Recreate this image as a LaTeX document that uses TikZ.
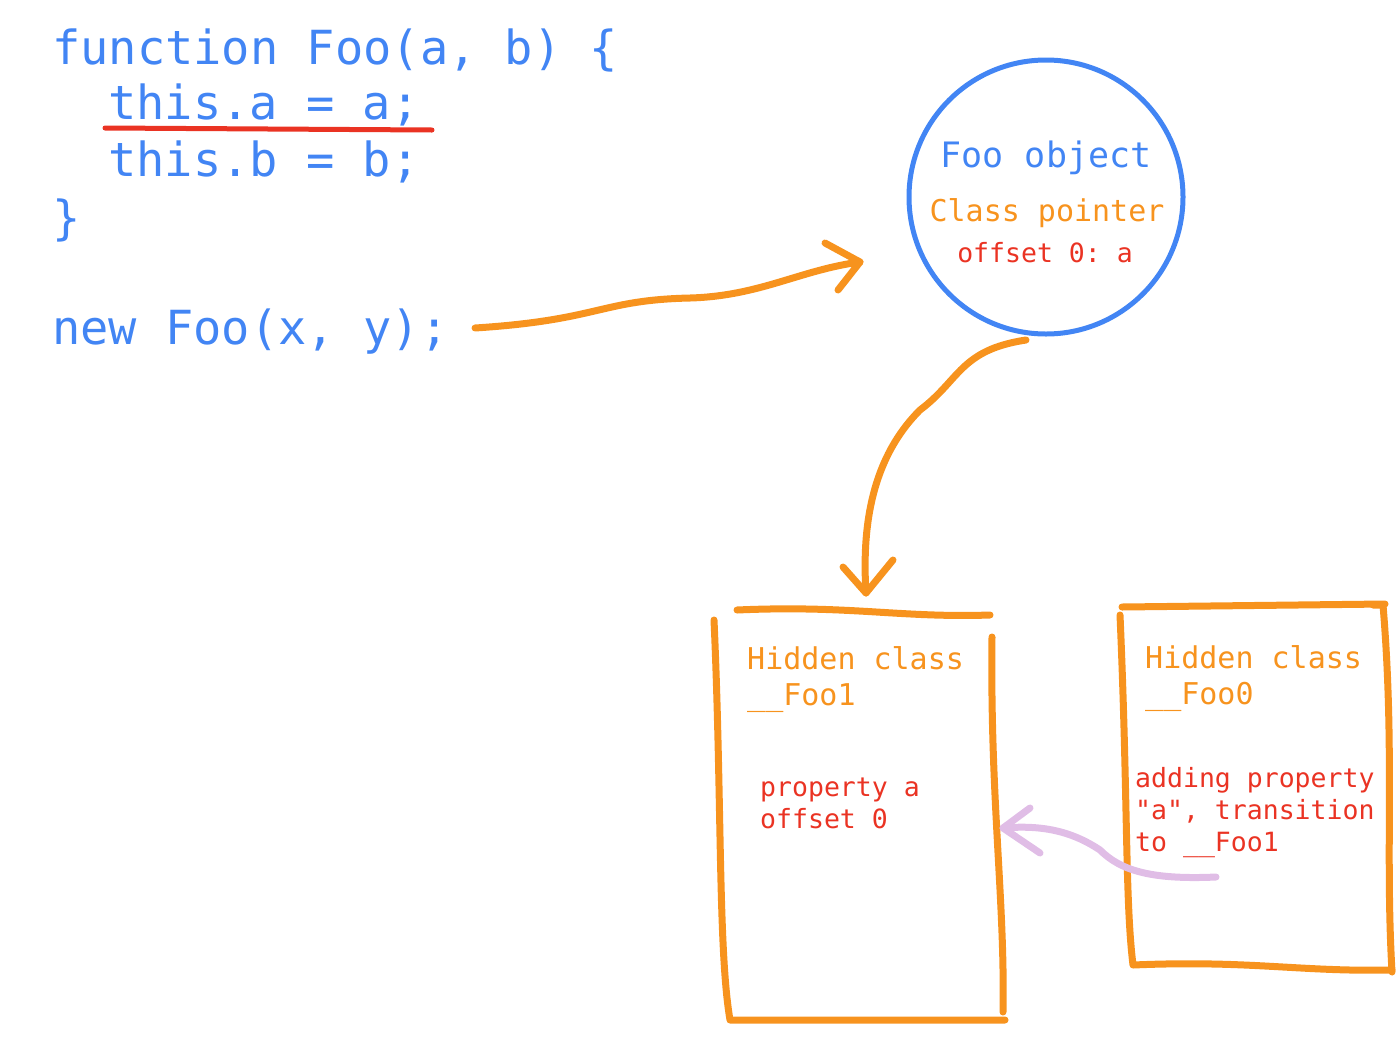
\documentclass[tikz,border=0pt]{standalone}
\usepackage{fontspec}
\setmonofont{DejaVu Sans Mono}
\definecolor{gblue}{HTML}{4285F4}
\definecolor{gor}{HTML}{F7931E}
\definecolor{gred}{HTML}{EA3323}
\definecolor{lil}{HTML}{E0BDE6}
\begin{document}
\begin{tikzpicture}[x=1pt,y=-1pt,
 code/.style={anchor=west,inner sep=0pt,text=gblue,font=\ttfamily\fontsize{47}{50}\selectfont},
 otxt/.style={anchor=west,inner sep=0pt,text=gor,font=\ttfamily\fontsize{30}{36}\selectfont,align=left},
 rtxt/.style={anchor=west,inner sep=0pt,text=gred,font=\ttfamily\fontsize{26.5}{32}\selectfont,align=left},
 pen/.style={gor,line width=7pt,line cap=round,line join=round}]
\useasboundingbox (0,0) rectangle (1400,1050);
\node[code] (l1) at (52,50) {function Foo(a, b) \{};
\node[code] (l2) at (108,105) {this.a = a;};
\node[code] (l3) at (108,162) {this.b = b;};
\node[code] (l4) at (52,220) {\}};
\node[code] (l5) at (52,332) {new Foo(x, y);};
\draw[gred,line width=5pt,line cap=round] (105,128) -- (432,130);
\node[draw=gblue,line width=5pt,circle,minimum size=274pt] (obj) at (1046,197) {};
\node[anchor=center,inner sep=0pt,text=gblue,font=\ttfamily\fontsize{35}{40}\selectfont] (t1) at (1046,158) {Foo object};
\node[anchor=center,inner sep=0pt,text=gor,font=\ttfamily\fontsize{30}{36}\selectfont] (t2) at (1047,213) {Class pointer};
\node[anchor=center,inner sep=0pt,text=gred,font=\ttfamily\fontsize{26.5}{32}\selectfont] (t3) at (1045,253) {offset 0: a};
% box 1
\draw[pen] (737,610) .. controls (850,605) and (900,618) .. (990,615);
\draw[pen] (714,620) .. controls (722,800) and (718,950) .. (730,1020) -- (1005,1020);
\draw[pen] (992,637) .. controls (990,800) and (1005,900) .. (1003,1012);
\node[otxt] (h1) at (747,680) {Hidden class\\\_\_Foo1};
\node[rtxt] (p1) at (760,803) {property a\\offset 0};
% box 2
\draw[pen] (1122,607) -- (1385,604);
\draw[pen] (1120,615) .. controls (1128,800) and (1125,900) .. (1133,965) .. controls (1250,960) and (1300,972) .. (1392,970);
\draw[pen] (1373,605) -- (1383,605) .. controls (1395,750) and (1385,850) .. (1392,972);
\node[otxt] (h2) at (1145,679) {Hidden class\\\_\_Foo0};
\node[rtxt] (p2) at (1135,813) {adding property\\"a", transition\\to \_\_Foo1};
% arrows
\coordinate (a1s) at (475,328); \coordinate (a1e) at (860,262);
\draw[pen] (a1s) .. controls (600,320) and (600,300) .. (690,298) .. controls (760,296) and (800,270) .. (a1e);
\draw[pen] (825,243) -- (a1e) -- (838,290);
\coordinate (a2s) at (1026,340); \coordinate (a2e) at (866,593);
\draw[pen] (a2s) .. controls (960,350) and (960,380) .. (920,410) .. controls (870,460) and (862,530) .. (a2e);
\draw[pen] (843,567) -- (a2e) -- (893,560);
\coordinate (a3s) at (1216,877); \coordinate (a3e) at (1003,828);
\draw[lil,line width=7pt,line cap=round,line join=round] (a3s) .. controls (1150,880) and (1120,870) .. (1100,850) .. controls (1070,830) and (1040,825) .. (a3e);
\draw[lil,line width=7pt,line cap=round,line join=round] (1030,808) -- (a3e) -- (1040,853);
\end{tikzpicture}
\end{document}
